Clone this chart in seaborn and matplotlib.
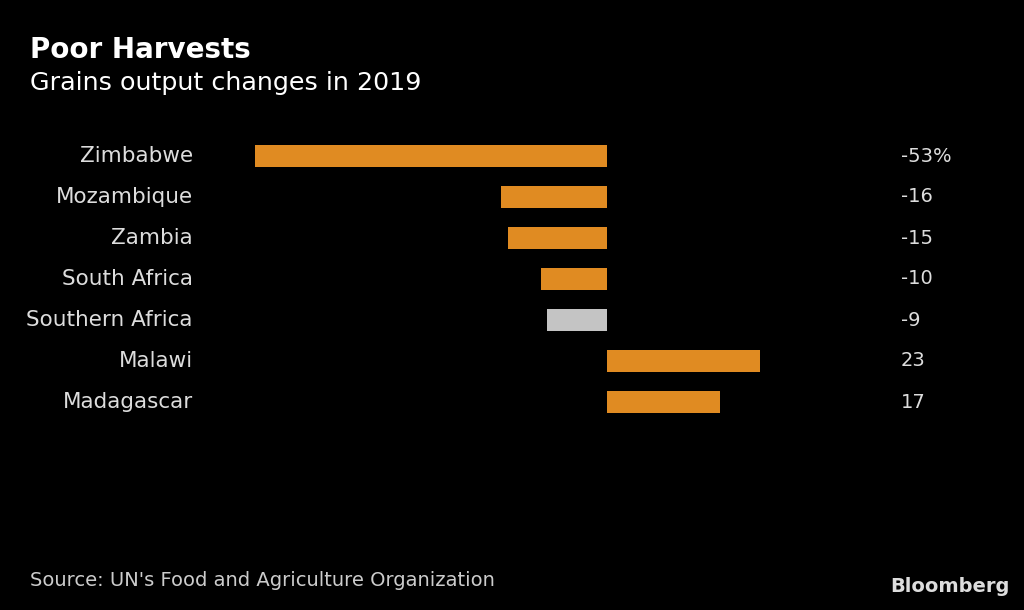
import matplotlib
matplotlib.use("Agg")
import matplotlib.pyplot as plt
import seaborn as sns
import pandas as pd

# data
countries = ["Zimbabwe", "Mozambique", "Zambia", "South Africa",
             "Southern Africa", "Malawi", "Madagascar"]
changes = [-53, -16, -15, -10, -9, 23, 17]
value_labels = ["-53%", "-16", "-15", "-10", "-9", "23", "17"]
bar_colors = ["#E08B22", "#E08B22", "#E08B22", "#E08B22",
              "#C4C4C4", "#E08B22", "#E08B22"]

df = pd.DataFrame({"country": countries, "change": changes})

sns.set_style("dark")
narrow = ["Liberation Sans Narrow", "DejaVu Sans"]
plt.rcParams["font.family"] = ["DejaVu Sans"]

fig = plt.figure(figsize=(10.24, 6.1), dpi=100, facecolor="black")
W, H = 1024, 610
ax = fig.add_axes([255 / W, 1 - 422.5 / H, (760 - 255) / W, (422.5 - 135.5) / H])
ax.set_facecolor("black")

sns.barplot(data=df, x="change", y="country", hue="country",
            palette=bar_colors, legend=False, width=0.56, orient="h",
            saturation=1, edgecolor="none", linewidth=0, ax=ax)
ax.set_xlim(-53, 23)
ax.set_ylim(6.5, -0.5)
ax.set_xticks([])
ax.set_yticks([])
ax.set_xlabel("")
ax.set_ylabel("")
for s in ax.spines.values():
    s.set_visible(False)

# category labels and value labels
for i, (name, lab) in enumerate(zip(countries, value_labels)):
    y = ax.transData.transform((0, i))[1] / H
    fig.text(193 / W, y, name, ha="right", va="center", color="#DDDDDD",
             fontsize=15.5, family=narrow)
    fig.text(901 / W, y, lab, ha="left", va="center", color="#DDDDDD",
             fontsize=14)

fig.text(30 / W, 1 - 50 / H, "Poor Harvests", ha="left", va="center",
         color="white", fontsize=20, fontweight="bold")
fig.text(30 / W, 1 - 83 / H, "Grains output changes in 2019", ha="left",
         va="center", color="white", fontsize=18.3)
fig.text(30 / W, 1 - 580 / H, "Source: UN's Food and Agriculture Organization",
         ha="left", va="center", color="#CCCCCC", fontsize=14, family=narrow)
fig.text(1010 / W, 1 - 586 / H, "Bloomberg", ha="right", va="center",
         color="#DDDDDD", fontsize=14, fontweight="bold", family=narrow)

fig.savefig("out.png", dpi=100, facecolor="black")
